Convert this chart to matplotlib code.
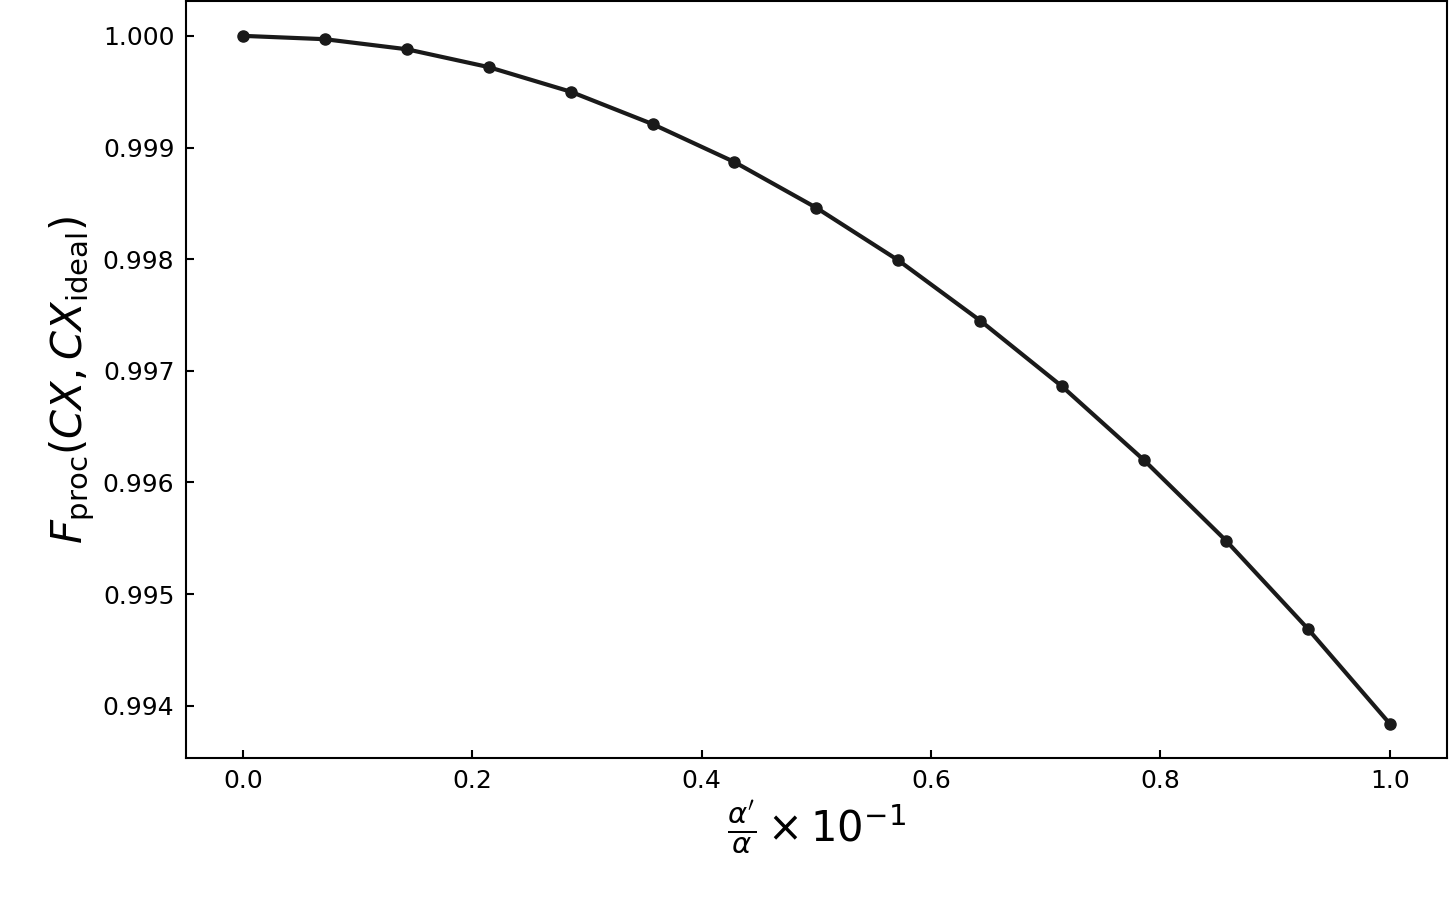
import numpy as np
import matplotlib
matplotlib.use('Agg')
import matplotlib.pyplot as plt

# Data
ratio = [i / 14 for i in range(15)]
fidelity = [1.00000, 0.99997, 0.99988, 0.99972, 0.99950, 0.99921, 0.99887,
            0.99846, 0.99799, 0.99745, 0.99686, 0.99620, 0.99548, 0.99469,
            0.99384]
yticks = [0.994, 0.995, 0.996, 0.997, 0.998, 0.999, 1.000]

fig = plt.figure(figsize=(14.5, 9.01), dpi=100)
ax = fig.add_axes([0.128, 0.159, 0.870, 0.840])
ax.plot(ratio, fidelity, color='#1a1a1a', lw=3, marker='o', ms=8)
ax.set_xlim(-0.05, 1.05)
ax.set_ylim(0.993535, 1.000313)
ax.set_yticks(yticks)
ax.set_yticklabels([f'{t:.3f}' for t in yticks])
ax.tick_params(direction='in', labelsize=18, length=6, width=1.5, pad=8)
for s in ax.spines.values():
    s.set_linewidth(1.5)
ax.set_xlabel(r"$\frac{\alpha'}{\alpha}\times10^{-1}$", fontsize=30)
ax.set_ylabel(r"$F_{\rm proc}(CX, CX_{\rm ideal})$", fontsize=30)
fig.savefig('out.png', dpi=100)
